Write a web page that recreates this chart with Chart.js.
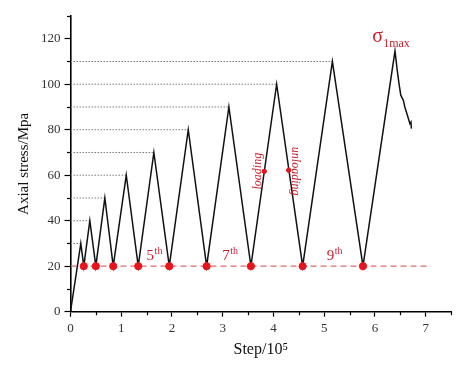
<!DOCTYPE html>
<html>
<head>
<meta charset="utf-8">
<script src="https://cdn.jsdelivr.net/npm/chart.js@4/dist/chart.umd.min.js"></script>
<style>
html,body{margin:0;padding:0;background:#fff;}
canvas{display:block;}
</style>
</head>
<body>
<canvas id="c" width="474" height="377"></canvas>
<script>
// ---- data ----
const peakX = [0.203, 0.381, 0.677, 1.099, 1.643, 2.321, 3.122, 4.063, 5.162, 6.396];
const peakY = [30, 40, 50, 60, 70, 80, 90, 100, 110, 114.6];
const valleyX = [0.262, 0.499, 0.842, 1.335, 1.947, 2.683, 3.556, 4.576, 5.765];
const valleyY = [20, 20, 20, 20, 20, 20, 20, 20, 20];
const tailX = [6.44, 6.475, 6.51, 6.56, 6.59, 6.64, 6.67, 6.69, 6.71, 6.72];
const tailY = [106.2, 100.3, 95.2, 93, 90, 86.4, 84.2, 82.7, 83.4, 80.5];
const markX = [3.82, 4.30];
const markY = [61.7, 62.2];
const baseLineX = [0, 7.1];
const baseLevel = 20;
const xTicks = [0, 1, 2, 3, 4, 5, 6, 7];
const yTicks = [0, 20, 40, 60, 80, 100, 120];
const cycleLabels = ['5', '7', '9'];
const cycleLabelX = [1.50, 2.99, 5.05];

// ---- build series ----
const curve = [{x: 0, y: 0}];
for (let i = 0; i < peakX.length; i++) {
  curve.push({x: peakX[i], y: peakY[i]});
  if (i < valleyX.length) curve.push({x: valleyX[i], y: valleyY[i]});
}
for (let i = 0; i < tailX.length; i++) curve.push({x: tailX[i], y: tailY[i]});

const RED = '#cc1f2d';
const serif = '"Liberation Serif", "Times New Roman", serif';

const datasets = [];
// dotted guide lines at peak levels (peaks 1..9)
for (let i = 0; i < 9; i++) {
  datasets.push({
    data: [{x: 0, y: peakY[i]}, {x: peakX[i], y: peakY[i]}],
    borderColor: '#7a7a7a', borderWidth: 1, borderDash: [1.5, 1.5],
    pointRadius: 0, showLine: true, order: 5
  });
}
// red dashed baseline
datasets.push({
  data: baseLineX.map(x => ({x, y: baseLevel})),
  borderColor: '#e06b6b', borderWidth: 1.2, borderDash: [6, 4],
  pointRadius: 0, showLine: true, order: 4
});
// main curve
datasets.push({
  data: curve, borderColor: '#111', borderWidth: 1.5,
  pointRadius: 0, showLine: true, tension: 0, order: 3
});
// red valley points
datasets.push({
  data: valleyX.map((x, i) => ({x, y: valleyY[i]})),
  backgroundColor: '#e8141c', borderColor: '#e8141c',
  pointRadius: 3.6, showLine: false, order: 1
});
// loading / unloading markers
datasets.push({
  data: markX.map((x, i) => ({x, y: markY[i]})),
  backgroundColor: '#e8141c', borderColor: '#e8141c',
  pointRadius: 2.2, showLine: false, order: 1
});

const extras = {
  id: 'extras',
  afterDraw(chart) {
    const ctx = chart.ctx;
    const xs = chart.scales.x, ys = chart.scales.y;
    ctx.save();
    // minor ticks
    ctx.strokeStyle = '#000'; ctx.lineWidth = 1.2;
    for (let v = 10; v <= 130; v += 20) {
      const p = Math.round(ys.getPixelForValue(v)) + 0.5;
      ctx.beginPath(); ctx.moveTo(xs.left - 3.5, p); ctx.lineTo(xs.left, p); ctx.stroke();
    }
    for (let v = 0.5; v <= 7.5; v += 1) {
      const p = Math.round(xs.getPixelForValue(v)) + 0.5;
      ctx.beginPath(); ctx.moveTo(p, ys.bottom); ctx.lineTo(p, ys.bottom + 3.5); ctx.stroke();
    }
    // cycle labels
    ctx.fillStyle = RED;
    ctx.textBaseline = 'alphabetic'; ctx.textAlign = 'left';
    cycleLabels.forEach((t, i) => {
      const px = xs.getPixelForValue(cycleLabelX[i]);
      const py = ys.getPixelForValue(22.6);
      ctx.font = '15px ' + serif;
      ctx.fillText(t, px, py);
      const w = ctx.measureText(t).width;
      ctx.font = '10px ' + serif;
      ctx.fillText('th', px + w + 0.5, py - 6);
    });
    // sigma 1max
    {
      const px = xs.getPixelForValue(5.95);
      const py = ys.getPixelForValue(118.5);
      ctx.font = '20px ' + serif;
      ctx.fillText('σ', px, py);
      const w = ctx.measureText('σ').width;
      ctx.font = '12px ' + serif;
      ctx.fillText('1max', px + w, py + 5);
    }
    // loading / unloading
    ctx.font = 'italic 12px ' + serif;
    ctx.textAlign = 'center'; ctx.textBaseline = 'middle';
    {
      const px = xs.getPixelForValue(3.70), py = ys.getPixelForValue(61.8);
      ctx.save(); ctx.translate(px, py); ctx.rotate(-Math.PI / 2);
      ctx.fillText('loading', 0, 0); ctx.restore();
    }
    {
      const px = xs.getPixelForValue(4.42), py = ys.getPixelForValue(61.8);
      ctx.save(); ctx.translate(px, py); ctx.rotate(Math.PI / 2);
      ctx.fillText('unloading', 0, 0); ctx.restore();
    }
    ctx.restore();
  }
};

new Chart(document.getElementById('c'), {
  type: 'scatter',
  data: {datasets},
  options: {
    responsive: false, animation: false, devicePixelRatio: 1,
    layout: {padding: {left: 15, right: 23, top: 16, bottom: 17.5}},
    plugins: {legend: {display: false}, tooltip: {enabled: false}},
    scales: {
      x: {
        type: 'linear', min: 0, max: 7.5,
        afterBuildTicks(s) { s.ticks = xTicks.map(v => ({value: v})).concat([{value: 7.5}]); },
        ticks: {
          autoSkip: false, maxRotation: 0, padding: 4,
          color: '#333', font: {family: serif, size: 13},
          callback: v => (Number.isInteger(v) ? String(v) : '')
        },
        grid: {drawOnChartArea: false, drawTicks: true, tickLength: 5, tickWidth: 1.2,
               tickColor: c => (Number.isInteger(c.tick.value) ? '#000' : 'rgba(0,0,0,0)')},
        border: {color: '#000', width: 1.6},
        title: {display: true, text: 'Step/10⁵', color: '#111',
                font: {family: serif, size: 16}, padding: {top: 0, bottom: 0}}
      },
      y: {
        type: 'linear', min: 0, max: 130,
        afterBuildTicks(s) { s.ticks = yTicks.map(v => ({value: v})).concat([{value: 130}]); },
        ticks: {
          autoSkip: false, padding: 4,
          color: '#333', font: {family: serif, size: 13},
          callback: v => (v % 20 === 0 ? String(v) : '')
        },
        grid: {drawOnChartArea: false, drawTicks: true, tickLength: 6, tickWidth: 1.2,
               tickColor: c => (c.tick.value % 20 === 0 ? '#000' : 'rgba(0,0,0,0)')},
        border: {color: '#000', width: 1.6},
        title: {display: true, text: 'Axial stress/Mpa', color: '#111',
                font: {family: serif, size: 15}, padding: {top: 0, bottom: 4}}
      }
    }
  },
  plugins: [extras]
});
</script>
</body>
</html>
